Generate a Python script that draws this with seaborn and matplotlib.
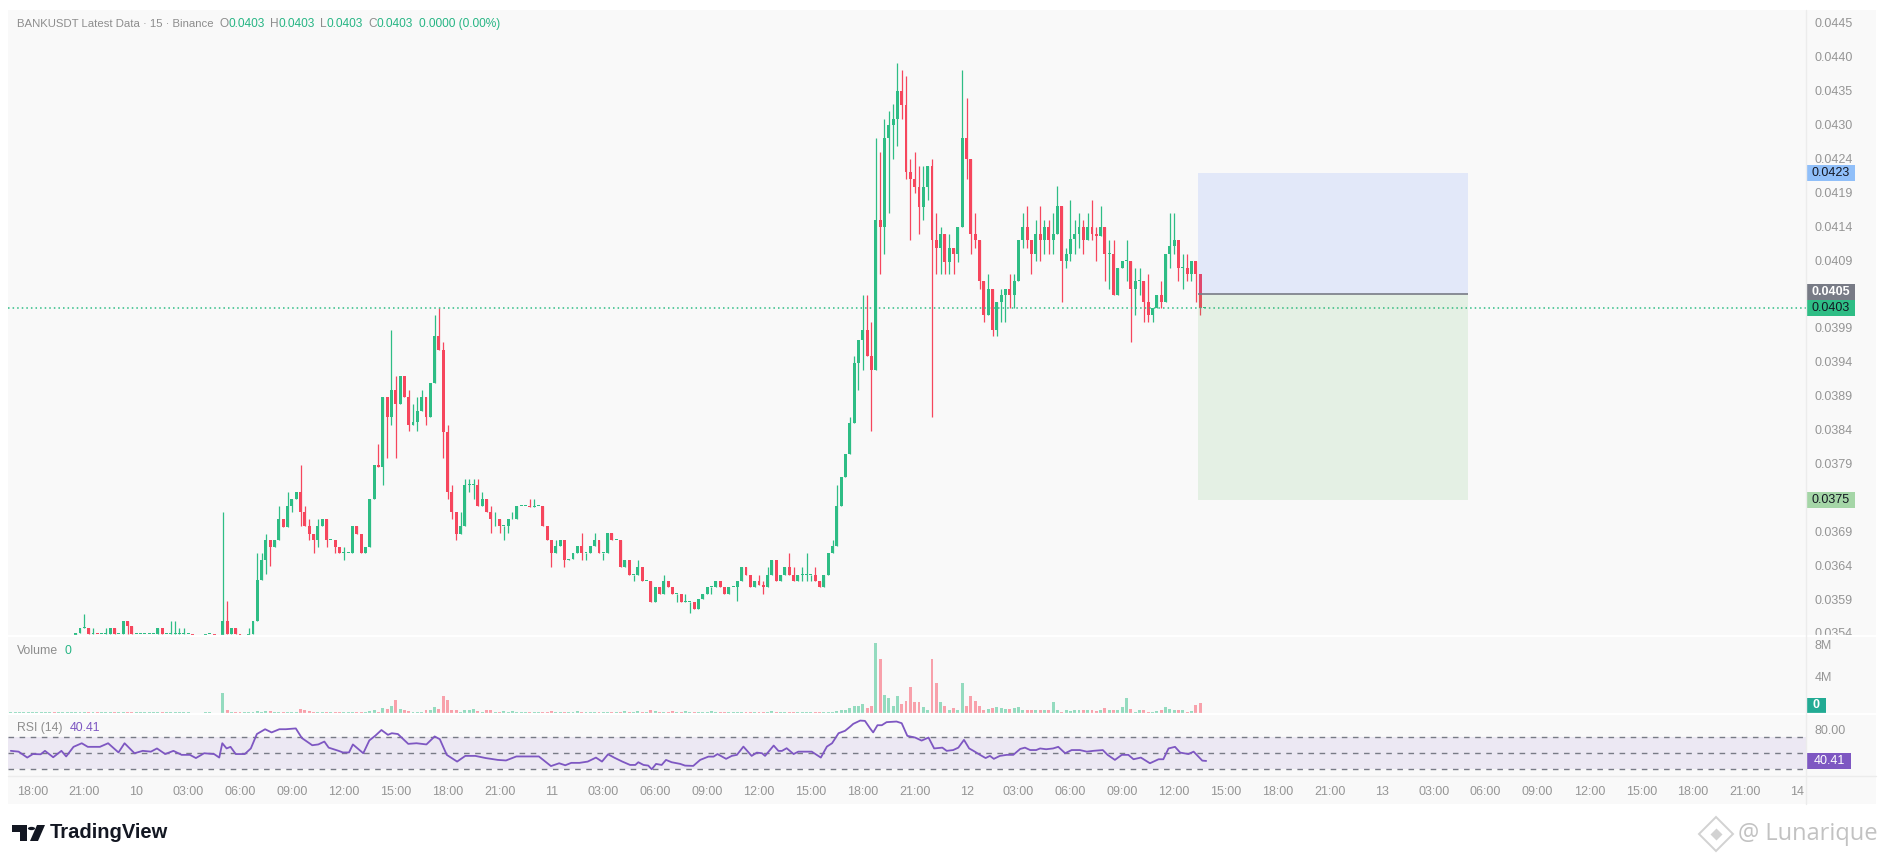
import matplotlib
matplotlib.use("Agg")
import matplotlib.pyplot as plt
import numpy as np
import pandas as pd
import seaborn as sns
from matplotlib.lines import Line2D
from matplotlib.patches import Rectangle, Polygon, Circle

sns.set_theme(style="white")
plt.rcParams['font.family'] = ['Liberation Sans', 'DejaVu Sans']

# ---- 15m closes, candle index 0 = 9th 16:45 (open = previous close)
closes = [
    0.03530, 0.03530, 0.03530, 0.03530, 0.03530, 0.03530, 0.03530, 0.03530, 0.03530, 0.03532,
    0.03530, 0.03530, 0.03530, 0.03530, 0.03530, 0.03538, 0.03545, 0.03545, 0.03536, 0.03537,
    0.03536, 0.03536, 0.03536, 0.03545, 0.03536, 0.03536, 0.03556, 0.03548, 0.03536, 0.03536,
    0.03536, 0.03536, 0.03536, 0.03536, 0.03545, 0.03536, 0.03536, 0.03536, 0.03536, 0.03536,
    0.03536, 0.03536, 0.03530, 0.03530, 0.03530, 0.03536, 0.03536, 0.03530, 0.03530, 0.03556,
    0.03536, 0.03545, 0.03536, 0.03533, 0.03533, 0.03536, 0.03556, 0.03617, 0.03647, 0.03677,
    0.03666, 0.03677, 0.03708, 0.03696, 0.03727, 0.03738, 0.03748, 0.03718, 0.03697, 0.03686,
    0.03676, 0.03697, 0.03707, 0.03676, 0.03676, 0.03666, 0.03657, 0.03657, 0.03657, 0.03697,
    0.03686, 0.03657, 0.03666, 0.03737, 0.03788, 0.03785, 0.03889, 0.03859, 0.03900, 0.03879,
    0.03920, 0.03889, 0.03848, 0.03852, 0.03869, 0.03889, 0.03859, 0.03910, 0.03980, 0.03960,
    0.03838, 0.03748, 0.03718, 0.03686, 0.03697, 0.03758, 0.03758, 0.03758, 0.03727, 0.03737,
    0.03718, 0.03707, 0.03708, 0.03697, 0.03697, 0.03707, 0.03708, 0.03727, 0.03727, 0.03727,
    0.03726, 0.03727, 0.03727, 0.03697, 0.03676, 0.03657, 0.03667, 0.03676, 0.03646, 0.03648,
    0.03657, 0.03667, 0.03657, 0.03657, 0.03667, 0.03676, 0.03657, 0.03657, 0.03687, 0.03676,
    0.03676, 0.03636, 0.03646, 0.03625, 0.03625, 0.03636, 0.03616, 0.03616, 0.03584, 0.03606,
    0.03596, 0.03616, 0.03606, 0.03596, 0.03596, 0.03584, 0.03584, 0.03584, 0.03574, 0.03588,
    0.03596, 0.03606, 0.03606, 0.03616, 0.03606, 0.03596, 0.03606, 0.03606, 0.03616, 0.03636,
    0.03625, 0.03606, 0.03616, 0.03610, 0.03606, 0.03625, 0.03646, 0.03616, 0.03625, 0.03636,
    0.03625, 0.03616, 0.03625, 0.03625, 0.03625, 0.03625, 0.03616, 0.03606, 0.03625, 0.03657,
    0.03667, 0.03727, 0.03770, 0.03805, 0.03851, 0.03940, 0.03975, 0.03990, 0.03950, 0.03929,
    0.04153, 0.04142, 0.04275, 0.04294, 0.04304, 0.04345, 0.04325, 0.04224, 0.04214, 0.04203,
    0.04173, 0.04203, 0.04234, 0.04123, 0.04112, 0.04132, 0.04091, 0.04112, 0.04102, 0.04142,
    0.04275, 0.04244, 0.04132, 0.04123, 0.04062, 0.04011, 0.04051, 0.03989, 0.04031, 0.04041,
    0.04051, 0.04041, 0.04062, 0.04123, 0.04143, 0.04123, 0.04102, 0.04132, 0.04123, 0.04143,
    0.04123, 0.04132, 0.04174, 0.04092, 0.04102, 0.04125, 0.04132, 0.04143, 0.04123, 0.04143,
    0.04132, 0.04130, 0.04143, 0.04102, 0.04102, 0.04041, 0.04081, 0.04092, 0.04092, 0.04051,
    0.04062, 0.04062, 0.04031, 0.04011, 0.04022, 0.04041, 0.04031, 0.04102, 0.04115, 0.04123,
    0.04081, 0.04081, 0.04072, 0.04092, 0.04072, 0.04022, 0.04022,
]

# wick extremes (only where the wick sticks out of the body)
wick_high = {
    17: 0.03566, 19: 0.03545, 22: 0.03545, 37: 0.03556, 38: 0.03556, 39: 0.03545, 40: 0.03545,
    49: 0.03718, 50: 0.03586, 55: 0.03545, 57: 0.03657, 58: 0.03657, 59: 0.03685, 62: 0.03727,
    64: 0.03748, 67: 0.03788, 68: 0.03727, 69: 0.03707, 70: 0.03686, 71: 0.03707, 77: 0.03666,
    85: 0.03819, 88: 0.03990, 89: 0.03920, 92: 0.03900, 93: 0.03879, 94: 0.03889, 95: 0.03900,
    96: 0.03889, 98: 0.04012, 99: 0.04022, 100: 0.03972, 101: 0.03848, 102: 0.03758, 104: 0.03718,
    105: 0.03768, 106: 0.03768, 107: 0.03768, 108: 0.03768, 109: 0.03748, 111: 0.03727,
    112: 0.03718, 116: 0.03718, 120: 0.03737, 121: 0.03737, 126: 0.03676, 132: 0.03687,
    135: 0.03687, 145: 0.03646, 151: 0.03625, 156: 0.03596, 173: 0.03625, 174: 0.03616,
    175: 0.03636, 180: 0.03657, 181: 0.03636, 183: 0.03636, 184: 0.03657, 186: 0.03636,
    190: 0.03676, 191: 0.03758, 194: 0.03860, 195: 0.03950, 197: 0.04041, 198: 0.04041,
    199: 0.04001, 200: 0.04275, 201: 0.04255, 202: 0.04304, 203: 0.04316, 204: 0.04326,
    205: 0.04387, 206: 0.04377, 207: 0.04367, 208: 0.04244, 209: 0.04255, 210: 0.04234,
    211: 0.04234, 213: 0.04244, 214: 0.04164, 215: 0.04142, 217: 0.04132, 220: 0.04377,
    221: 0.04335, 223: 0.04164, 224: 0.04123, 226: 0.04072, 229: 0.04051, 231: 0.04072,
    232: 0.04072, 234: 0.04163, 235: 0.04174, 237: 0.04153, 238: 0.04174, 239: 0.04153,
    240: 0.04153, 241: 0.04163, 242: 0.04204, 244: 0.04112, 245: 0.04183, 246: 0.04153,
    247: 0.04163, 248: 0.04153, 249: 0.04163, 250: 0.04183, 251: 0.04143, 252: 0.04174,
    254: 0.04123, 255: 0.04123, 258: 0.04123, 260: 0.04081, 261: 0.04081, 263: 0.04072,
    266: 0.04062, 268: 0.04163, 269: 0.04163, 271: 0.04102, 272: 0.04102,
}
wick_low = {
    27: 0.03536, 59: 0.03626, 60: 0.03637, 65: 0.03718, 66: 0.03738, 67: 0.03697, 69: 0.03676,
    70: 0.03657, 71: 0.03666, 73: 0.03666, 75: 0.03657, 77: 0.03647, 86: 0.03758, 87: 0.03799,
    88: 0.03848, 89: 0.03799, 92: 0.03839, 94: 0.03839, 95: 0.03869, 96: 0.03848, 100: 0.03799,
    101: 0.03738, 102: 0.03707, 103: 0.03676, 105: 0.03697, 106: 0.03748, 107: 0.03738,
    111: 0.03687, 112: 0.03697, 113: 0.03687, 114: 0.03676, 115: 0.03687, 125: 0.03636,
    126: 0.03657, 128: 0.03636, 129: 0.03646, 132: 0.03646, 133: 0.03646, 137: 0.03646,
    144: 0.03616, 149: 0.03584, 154: 0.03584, 157: 0.03567, 162: 0.03596, 163: 0.03606,
    168: 0.03585, 174: 0.03596, 183: 0.03616, 184: 0.03616, 185: 0.03616, 196: 0.03900,
    197: 0.03929, 199: 0.03839, 200: 0.03929, 201: 0.04073, 202: 0.04102, 203: 0.04164,
    204: 0.04244, 205: 0.04264, 206: 0.04304, 207: 0.04214, 208: 0.04123, 209: 0.04193,
    210: 0.04132, 211: 0.04153, 212: 0.04183, 213: 0.03860, 214: 0.04073, 215: 0.04073,
    216: 0.04073, 217: 0.04073, 218: 0.04072, 219: 0.04091, 221: 0.04214, 222: 0.04102,
    223: 0.04112, 224: 0.04051, 225: 0.04001, 227: 0.03981, 228: 0.03981, 229: 0.04001,
    230: 0.04001, 231: 0.04022, 232: 0.04022, 234: 0.04112, 235: 0.04112, 236: 0.04072,
    237: 0.04092, 238: 0.04092, 239: 0.04102, 240: 0.04102, 241: 0.04102, 243: 0.04031,
    244: 0.04081, 245: 0.04092, 246: 0.04102, 247: 0.04112, 248: 0.04102, 250: 0.04123,
    251: 0.04092, 252: 0.04132, 253: 0.04062, 254: 0.04051, 258: 0.04062, 259: 0.03972,
    260: 0.04011, 261: 0.04041, 262: 0.04001, 263: 0.04001, 264: 0.04001, 266: 0.04022,
    268: 0.04081, 269: 0.04102, 270: 0.04062, 271: 0.04051, 272: 0.04062, 273: 0.04062,
    274: 0.04031, 275: 0.04011,
}

# volume in millions
volumes = [
    0.10, 0.08, 0.06, 0.06, 0.07, 0.08, 0.06, 0.07, 0.08, 0.10, 0.07, 0.06, 0.06, 0.07, 0.08, 0.10, 0.08, 0.07, 0.10, 0.07,
    0.08, 0.07, 0.06, 0.10, 0.08, 0.07, 0.10, 0.08, 0.10, 0.07, 0.06, 0.06, 0.07, 0.08, 0.10, 0.07, 0.06, 0.12, 0.10, 0.08,
    0.08, 0.06, 0.05, 0.05, 0.05, 0.07, 0.06, 0.05, 0.05, 2.15, 0.37, 0.12, 0.10, 0.06, 0.06, 0.08, 0.12, 0.26, 0.15, 0.18,
    0.26, 0.10, 0.12, 0.10, 0.12, 0.10, 0.10, 0.48, 0.30, 0.26, 0.12, 0.10, 0.08, 0.10, 0.08, 0.10, 0.08, 0.07, 0.08, 0.12,
    0.10, 0.10, 0.08, 0.18, 0.30, 0.15, 0.55, 0.44, 0.80, 1.37, 0.44, 0.30, 0.18, 0.15, 0.12, 0.15, 0.30, 0.37, 0.67, 0.44,
    1.90, 1.37, 0.37, 0.37, 0.12, 0.30, 0.30, 0.44, 0.18, 0.10, 0.37, 0.30, 0.10, 0.12, 0.18, 0.10, 0.18, 0.10, 0.08, 0.07,
    0.10, 0.08, 0.07, 0.10, 0.12, 0.26, 0.10, 0.08, 0.12, 0.08, 0.08, 0.18, 0.12, 0.08, 0.07, 0.10, 0.10, 0.07, 0.10, 0.08,
    0.07, 0.10, 0.18, 0.10, 0.08, 0.19, 0.10, 0.08, 0.30, 0.19, 0.08, 0.10, 0.08, 0.19, 0.08, 0.08, 0.19, 0.10, 0.10, 0.08,
    0.08, 0.07, 0.19, 0.08, 0.07, 0.08, 0.07, 0.07, 0.10, 0.12, 0.08, 0.08, 0.07, 0.07, 0.08, 0.10, 0.19, 0.08, 0.15, 0.07,
    0.15, 0.07, 0.08, 0.15, 0.07, 0.07, 0.08, 0.07, 0.07, 0.08, 0.10, 0.26, 0.37, 0.30, 0.52, 0.74, 0.80, 0.93, 0.52, 0.74,
    7.60, 5.85, 2.00, 1.60, 0.74, 1.90, 0.93, 1.30, 2.80, 1.20, 1.20, 0.67, 0.37, 5.85, 3.26, 1.20, 0.80, 0.37, 0.52, 0.30,
    3.26, 0.80, 1.90, 1.26, 0.80, 0.37, 0.44, 0.52, 0.67, 0.52, 0.44, 0.44, 0.52, 0.67, 0.30, 0.30, 0.37, 0.37, 0.37, 0.30,
    0.37, 1.20, 0.37, 0.15, 0.37, 0.22, 0.37, 0.30, 0.30, 0.30, 0.30, 0.22, 0.37, 0.52, 0.30, 0.37, 0.30, 0.67, 1.60, 0.44,
    0.15, 0.37, 0.30, 0.15, 0.15, 0.18, 0.37, 0.67, 0.44, 0.30, 0.37, 0.30, 0.15, 0.22, 0.90, 1.10, 0.00,
]

rsi_idx = [
    0, 1.8, 3.8, 5.1, 6.9, 7.9, 9.8, 11.7, 12.8, 14.5, 16.4, 17.8, 20.6, 22.5, 24.9, 26.3, 28.6,
    30.5, 32.4, 33.8, 35.7, 37.6, 39.5, 41.4, 42.8, 44.7, 47, 48.2, 48.9, 49.9, 50.8, 52, 54.1,
    55.5, 56.9, 58.8, 60.3, 62.1, 63.6, 65.9, 67.3, 69.7, 71.1, 72.5, 73.5, 75.8, 76.8, 78.2,
    79.1, 81.5, 82.9, 84.3, 85.7, 87.2, 88.1, 89.5, 91.9, 93.8, 96.1, 98, 99.2, 100.8, 103.2,
    105.1, 107.4, 109.8, 112.6, 114.5, 116.9, 119.2, 122.1, 124.9, 126.8, 128.2, 129.6, 131.5,
    133.4, 135.3, 136.7, 138.1, 139.5, 141.4,
    143.2, 144.4, 145.1, 146.3, 147.4, 148.2, 149.2, 150.5, 151.5, 152.8, 154.8, 155.9, 157.8,
    159.4, 161.3, 162.5, 163.4, 165.4, 166.7, 167.9, 169.4, 171.3, 172.5, 173.7, 174.4, 176.4,
    177.5, 178.3, 179.4, 181, 182.1, 183.7, 185.2, 187.3, 188.7, 189.9, 191.4, 192.9, 194.1,
    194.8, 196.4, 197.5, 198.7, 199.4, 200.4, 201.4, 202.5, 204.8, 206, 207.3, 209.1, 210.6,
    212.2, 213.5, 215.4, 216.4, 217.9, 219.1, 220.4, 221.6, 222.6, 224.1, 225.4, 226.4, 227.3,
    228.7, 230.3, 231.8, 233.4, 234.5, 235.7, 237.1, 238, 239.4, 241, 242.2, 243.8, 245.3,
    247.2, 248.8, 250.3, 252.5, 253.6, 255.3, 256.9, 258.4, 259.6, 261.3, 263.4, 265.4, 266.5,
    267.7, 269.2, 270.4, 272.3, 273.5, 275.5, 276.4,
]
rsi_val = [
    53, 52, 44.6, 49, 48.7, 53, 45, 53, 46, 58, 62.5, 58, 58, 62.5, 51, 62.5, 50,
    53, 52, 56, 49, 53, 48, 48, 44, 50, 49, 44.6, 62.5, 56, 58, 49, 49,
    56, 74, 80, 76, 80, 80, 81, 69, 60, 61, 64.6, 57, 53, 51, 51,
    61, 50, 66, 72, 79, 73, 75, 74, 61.7, 62.5, 61, 71, 67.5, 48, 39.6,
    46.7, 46.7, 44, 41.7, 41, 46, 46, 46, 34, 37.5, 35, 38, 38,
    39.6, 44.6, 39.6, 48.7, 44.6, 39.6,
    35.4, 35.4, 38.8, 35.4, 34.6, 30, 36.7, 35.4, 41.7, 38.8, 36.7, 34.6, 34.2,
    41.7, 45.8, 45.8, 49, 43, 46.7, 48, 58.3, 46.7, 50.8, 50, 46.7, 59.6,
    52.9, 52.9, 56.3, 49, 52, 52, 52, 44.6, 58.3, 62.5, 75, 78, 83.3,
    86.7, 90.8, 90.4, 81, 76, 85, 85, 88.8, 89.6, 87.5, 71.7, 69.6, 65.8,
    69.6, 56, 57, 53, 54, 57, 66.7, 56, 53, 48, 44, 46.7, 43,
    46.7, 48, 48, 55.4, 57, 54, 54, 56, 55, 56, 58, 50, 54,
    54, 52, 53, 54, 48, 41.7, 48, 48, 42.5, 44.6, 37.5, 42.5, 42.5,
    56, 58, 50.8, 49, 52, 40.8, 40.4,
]

# time axis: one label every 3h (12 candles), first label (9th 18:00) at candle 5
time_tick_idx = list(range(5, 5 + 12 * 35, 12))
time_labels = [
    "18:00", "21:00", "10", "03:00", "06:00", "09:00", "12:00", "15:00", "18:00", "21:00",
    "11", "03:00", "06:00", "09:00", "12:00", "15:00", "18:00", "21:00",
    "12", "03:00", "06:00", "09:00", "12:00", "15:00", "18:00", "21:00",
    "13", "03:00", "06:00", "09:00", "12:00", "15:00", "18:00", "21:00", "14",
]

# price scale (0.0404 and 0.0374 sit under the level boxes and are not shown)
price_ticks = [0.04447, 0.043965, 0.04346, 0.042955, 0.04245, 0.041945, 0.04144, 0.040935,
               0.039925, 0.03942, 0.038915, 0.03841, 0.037905, 0.036895,
               0.03639, 0.035885, 0.03538]
price_tick_labels = ["0.0445", "0.0440", "0.0435", "0.0430", "0.0424", "0.0419", "0.0414",
                     "0.0409", "0.0399", "0.0394", "0.0389", "0.0384", "0.0379",
                     "0.0369", "0.0364", "0.0359", "0.0354"]

# long position drawing
pos_start, pos_end = 274.4, 337.0
take_profit, entry, stop_loss = 0.04223, 0.04043, 0.03736
last_price = 0.04022
level_labels = {"tp": "0.0423", "entry": "0.0405", "last": "0.0403", "sl": "0.0375"}
rsi_last_label = "40.41"

UP, DOWN = "#2ebd85", "#f6465d"
UP_VOL, DOWN_VOL = "#94dbbf", "#f8a1ab"
BG = "#f9f9f9"
AXIS_TXT = "#959595"

df = pd.DataFrame({"close": closes, "volume": volumes})
df["open"] = df["close"].shift(1).fillna(df["close"])
df["high"] = df[["open", "close"]].max(axis=1)
df["low"] = df[["open", "close"]].min(axis=1)
for k, v in wick_high.items():
    df.loc[k, "high"] = max(df.loc[k, "high"], v)
for k, v in wick_low.items():
    df.loc[k, "low"] = min(df.loc[k, "low"], v)
df["up"] = df["close"] >= df["open"]
idx = df.index.values

W, H = 1884, 864
fig = plt.figure(figsize=(W / 100, H / 100), dpi=100, facecolor="white")


def rect(x0, y0, x1, y1):
    return [x0 / W, 1 - y1 / H, (x1 - x0) / W, (y1 - y0) / H]


def fx(x):
    return x / W


def fy(y):
    return 1 - y / H


# chart background
fig.add_artist(Rectangle((fx(8), fy(804)), (1876 - 8) / W, (804 - 10) / H,
                         transform=fig.transFigure, facecolor=BG, edgecolor="none", zorder=-5))

PANES = {"price": (10, 636), "vol": (636, 714), "rsi": (714, 776)}
ax = fig.add_axes(rect(8, 10, 1806, 636))
ax_vol = fig.add_axes(rect(8, 636, 1806, 714), sharex=ax)
ax_rsi = fig.add_axes(rect(8, 714, 1806, 776), sharex=ax)
AX_W = 1806 - 8

for a in (ax, ax_vol, ax_rsi):
    a.set_facecolor(BG)
    for s in a.spines.values():
        s.set_visible(False)
    a.yaxis.tick_right()
    a.tick_params(axis="y", length=0, pad=6, labelsize=9, labelcolor=AXIS_TXT)
    a.tick_params(axis="x", length=0)

# ---- candles
colors = np.where(df["up"], UP, DOWN)
ax.vlines(idx, df["low"], df["high"], colors=colors, linewidth=0.9, zorder=2)
body_lo = df[["open", "close"]].min(axis=1)
body_h = (df["close"] - df["open"]).abs().clip(lower=0.000014)
ax.bar(idx, body_h, bottom=body_lo, width=0.68, color=colors, linewidth=0, zorder=3)

ax.axhline(last_price, color=UP, linestyle=(0, (1, 2)), linewidth=1.1, zorder=4)

# position tool
ax.add_patch(Rectangle((pos_start, entry), pos_end - pos_start, take_profit - entry,
                       facecolor=(0.16, 0.38, 1.0, 0.11), edgecolor="none", zorder=5))
ax.add_patch(Rectangle((pos_start, stop_loss), pos_end - pos_start, entry - stop_loss,
                       facecolor=(0.30, 0.69, 0.31, 0.12), edgecolor="none", zorder=5))
ax.hlines(entry, pos_start, pos_end, color="#787b86", linewidth=1.2, zorder=6)

ax.set_xlim(-0.65, 415.1)
ax.set_ylim(0.035334, 0.04466)
ax.set_yticks(price_ticks)
ax.set_yticklabels(price_tick_labels)
ax.tick_params(axis="x", labelbottom=False)


def scale_box(a, pane, y, txt, fc, tc, width_px=48, height_px=16, bold=False, va="center",
              shift_px=0):
    """Right-scale label box, sized in pixels (shift_px > 0 moves it up)."""
    top, bottom = PANES[pane]
    lo, hi = a.get_ylim()
    per_px = (hi - lo) / (bottom - top)
    h = height_px * per_px
    y0 = (y - h / 2 if va == "center" else y) + shift_px * per_px
    tr = a.get_yaxis_transform()
    a.add_patch(Rectangle((1 + 1 / AX_W, y0), width_px / AX_W, h, transform=tr,
                          facecolor=fc, edgecolor="none", clip_on=False, zorder=19))
    a.text(1 + (1 + width_px / 2) / AX_W, y0 + h / 2, txt, transform=tr, ha="center",
           va="center", fontsize=9, color=tc, fontweight="bold" if bold else "normal",
           clip_on=False, zorder=20)


scale_box(ax, "price", take_profit, level_labels["tp"], "#90bff9", "#131722")
scale_box(ax, "price", entry, level_labels["entry"], "#787b86", "white", bold=True, shift_px=2)
scale_box(ax, "price", last_price, level_labels["last"], UP, "#131722")
scale_box(ax, "price", stop_loss, level_labels["sl"], "#a5d6a7", "#131722")

# ---- volume
vol_colors = np.where(df["up"], UP_VOL, DOWN_VOL)
ax_vol.bar(idx, df["volume"], width=0.68, color=vol_colors, linewidth=0)
ax_vol.set_ylim(-0.11, 8.4)
ax_vol.set_yticks([4, 8])
ax_vol.set_yticklabels(["4M", "8M"])
ax_vol.tick_params(axis="x", labelbottom=False)
# the 8M label sits a little lower so it does not collide with 0.0354
ax_vol.get_yticklabels()[1].set_va("top")
scale_box(ax_vol, "vol", df["volume"].iloc[-1], "0", "#22ab94", "white", width_px=19,
          height_px=15, bold=True, va="bottom")

# ---- RSI
ax_rsi.axhspan(30, 70, color="#7e57c2", alpha=0.1, linewidth=0)
for lvl in (70, 50, 30):
    ax_rsi.axhline(lvl, color="#787b86", linestyle=(0, (4, 4)), linewidth=1)
sns.lineplot(x=rsi_idx, y=rsi_val, ax=ax_rsi, color="#7e57c2", linewidth=1.3)
ax_rsi.set_ylim(21.6, 99)
ax_rsi.set_yticks([80])
ax_rsi.set_yticklabels(["80.00"])
ax_rsi.set_xticks(time_tick_idx)
ax_rsi.set_xticklabels(time_labels)
ax_rsi.tick_params(axis="x", labelsize=9, labelcolor=AXIS_TXT, pad=7)
ax_rsi.set_xlabel("")
ax_rsi.set_ylabel("")
scale_box(ax_rsi, "rsi", float(rsi_last_label), rsi_last_label, "#7e57c2", "white",
          width_px=44, height_px=16)

# separators
for y in (636, 714):
    fig.add_artist(Line2D([fx(8), fx(1876)], [fy(y), fy(y)], transform=fig.transFigure,
                          color="white", linewidth=1.6, zorder=10))
fig.add_artist(Line2D([fx(8), fx(1876)], [fy(776), fy(776)], transform=fig.transFigure,
                      color="#ececec", linewidth=1, zorder=10))
fig.add_artist(Line2D([fx(1806), fx(1806)], [fy(10), fy(804)], transform=fig.transFigure,
                      color="#ececec", linewidth=1, zorder=10))

# legends (sequential coloured text runs)
renderer = fig.canvas.get_renderer()


def text_run(x_px, y_px, parts):
    x = x_px
    for s, color, gap, size in parts:
        t = fig.text(fx(x), fy(y_px), s, color=color, fontsize=size, va="center", ha="left", zorder=30)
        x += t.get_window_extent(renderer).width + gap


GRAY = "#8d8d8d"
GREEN_TXT = "#26b584"
text_run(17, 24, [("BANKUSDT Latest Data · 15 · Binance", GRAY, 6, 8.2),
                  ("O", GRAY, 0, 8.6), ("0.0403", GREEN_TXT, 5, 8.6),
                  ("H", GRAY, 0, 8.6), ("0.0403", GREEN_TXT, 5, 8.6),
                  ("L", GRAY, 0, 8.6), ("0.0403", GREEN_TXT, 5, 8.6),
                  ("C", GRAY, 0, 8.6), ("0.0403", GREEN_TXT, 6, 8.6),
                  ("0.0000 (0.00%)", GREEN_TXT, 0, 8.6)])
text_run(17, 651, [("Volume", GRAY, 6, 8.8), ("0", GREEN_TXT, 0, 8.8)])
text_run(17, 728, [("RSI (14)", GRAY, 7, 8.8), (rsi_last_label, "#7e57c2", 0, 8.8)])


# TradingView logo
def P(x, y):
    return (fx(x), fy(y))


fig.add_artist(Polygon([P(12, 825), P(27, 825), P(27, 841), P(20, 841), P(20, 832), P(12, 832)],
                       closed=True, transform=fig.transFigure, facecolor="#131722", edgecolor="none"))
fig.add_artist(Circle(P(31.5, 828.5), 3.6 / W, transform=fig.transFigure, facecolor="#131722",
                      edgecolor="none"))
fig.add_artist(Polygon([P(37, 825), P(45, 825), P(38, 841), P(30, 841)], closed=True,
                       transform=fig.transFigure, facecolor="#131722", edgecolor="none"))
fig.text(fx(50), fy(833), "TradingView", fontsize=14.5, fontweight="bold", color="#131722",
         va="center", ha="left")

# watermark
fig.add_artist(Line2D([fx(1716)], [fy(834)], marker="D", markersize=17, markerfacecolor="none",
                      markeredgecolor="#d2d2d2", markeredgewidth=1.4, transform=fig.transFigure))
fig.add_artist(Line2D([fx(1716)], [fy(834)], marker="D", markersize=6, markerfacecolor="#d2d2d2",
                      markeredgecolor="none", transform=fig.transFigure))
fig.text(fx(1878), fy(834), "@ Lunarique", fontsize=17, color="#c2c2c2", va="center", ha="right",
         family=["Open Sans", "DejaVu Sans"])

fig.savefig("out.png", dpi=100, facecolor="white")
